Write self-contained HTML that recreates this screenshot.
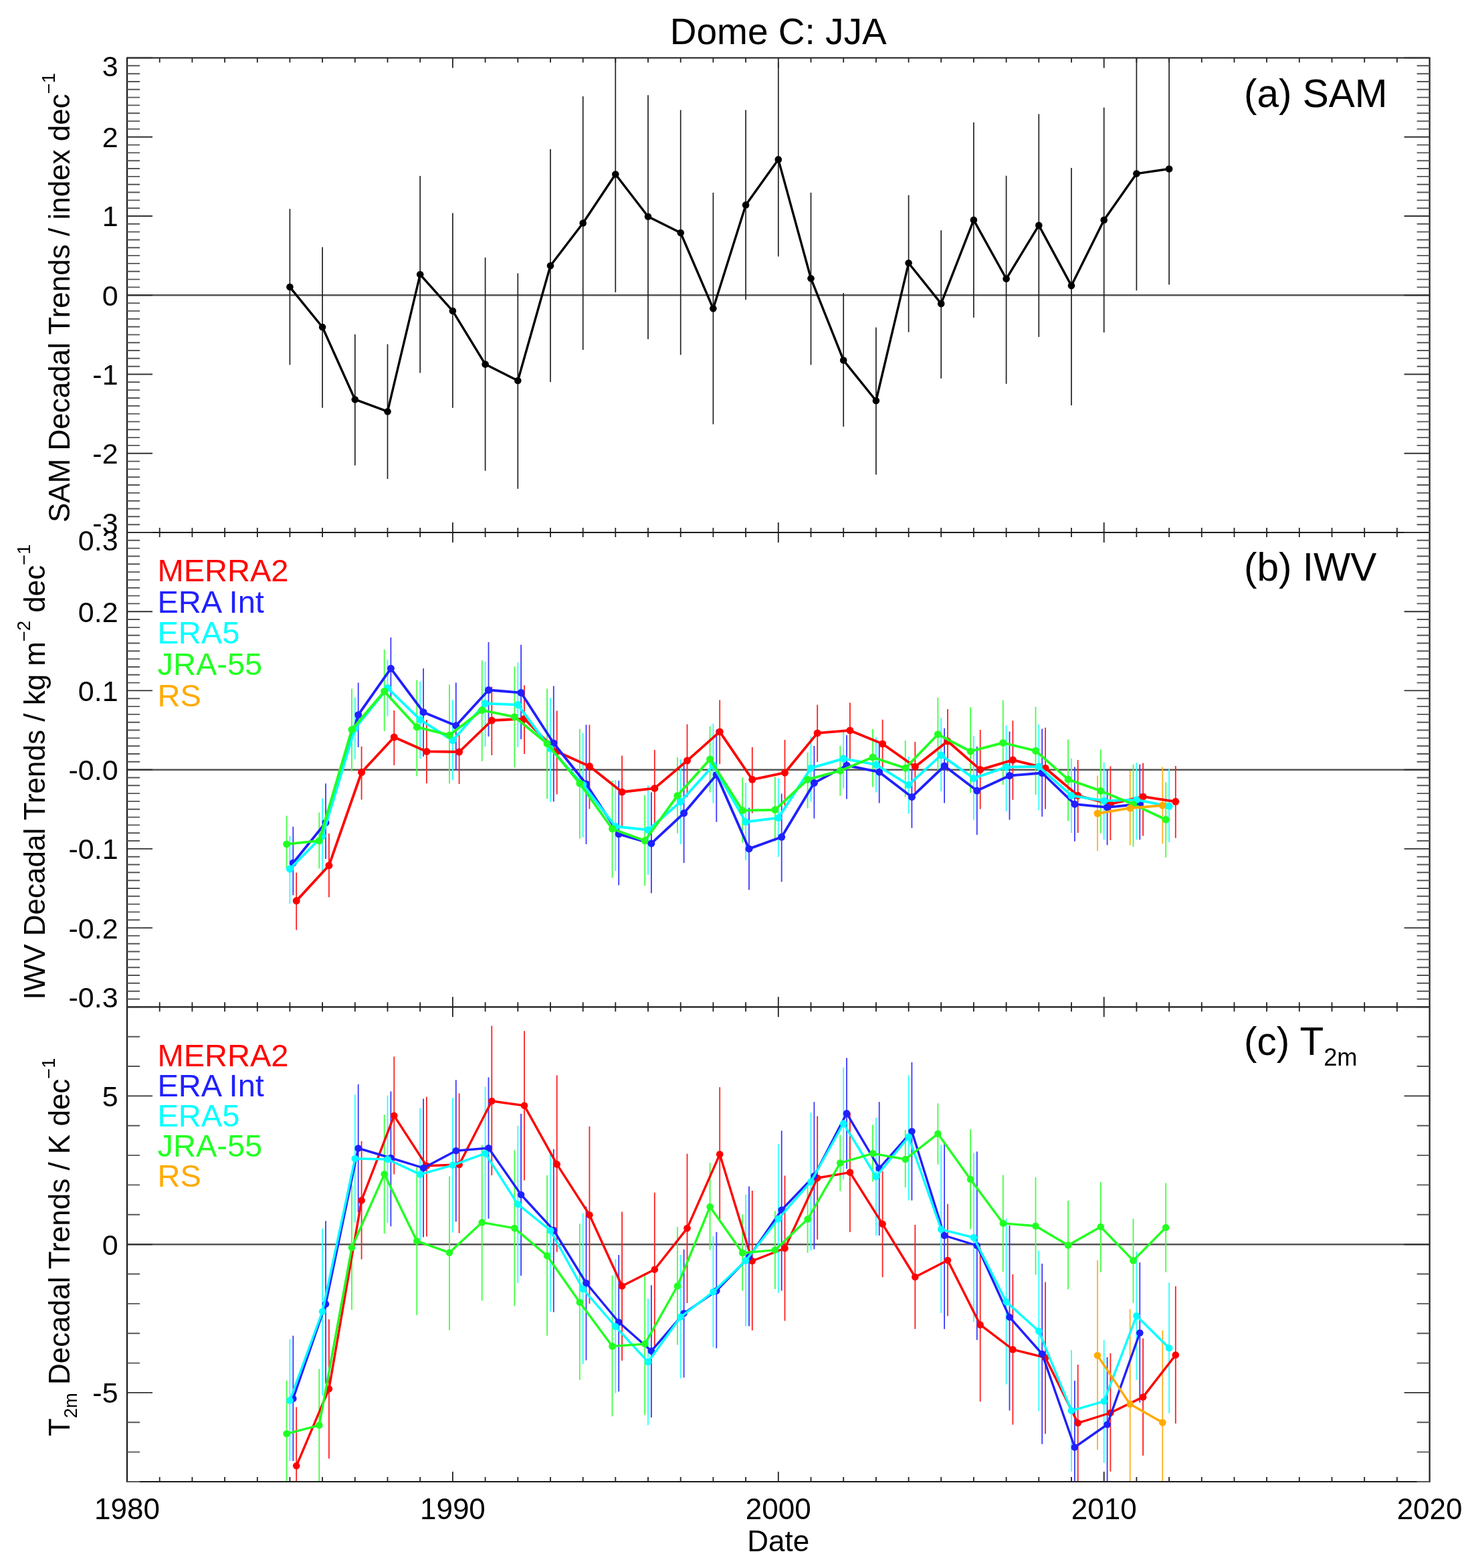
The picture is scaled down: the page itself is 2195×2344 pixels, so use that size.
<!DOCTYPE html>
<html><head><meta charset="utf-8"><title>Dome C: JJA</title>
<style>html,body{margin:0;padding:0;background:#fff;}svg{display:block;}text{font-family:'Liberation Sans', Arial, Helvetica, sans-serif;}</style>
</head><body>
<svg xmlns="http://www.w3.org/2000/svg" width="2195" height="2344" viewBox="0 0 2195 2344">
<rect width="2195" height="2344" fill="#fff"/>
<clipPath id="ca"><rect x="190" y="86.5" width="1947.6" height="709.5"/></clipPath>
<clipPath id="cb"><rect x="190" y="796" width="1947.6" height="709.3"/></clipPath>
<clipPath id="cc"><rect x="190" y="1505.3" width="1947.6" height="709.7"/></clipPath>
<path d="M190 441.2H2137.6" stroke="#555" stroke-width="2.6"/>
<path d="M190 1150.7H2137.6" stroke="#555" stroke-width="2.6"/>
<path d="M190 1860.2H2137.6" stroke="#555" stroke-width="2.6"/>
<g clip-path="url(#ca)">
<path d="M433.4 312.3V545.4M482.1 369.5V609.8M530.8 499.7V695.8M579.5 514.5V715.9M628.2 262.9V557.5M676.9 318.5V609.8M725.6 385.1V703.8M774.3 408.4V730.7M823 223.1V570.9M871.7 144V523M920.3 84V437.1M969 142.3V507M1017.7 164.6V530.5M1066.4 288.1V634.3M1115.1 164.6V447.9M1163.8 93.4V383.4M1212.5 288V545.4M1261.2 438V637.8M1309.9 489.4V709.6M1358.6 291.8V496.4M1407.2 344.3V565.7M1455.9 182.9V474.8M1504.6 262.8V573.8M1553.3 170.6V503.8M1602 250.9V606M1650.7 160.7V497.1M1699.4 84V434.2M1748.1 80V425.5" stroke="#222222" stroke-width="1.7" fill="none"/>
<path d="M433.4 429.1 L482.1 489 L530.8 597.2 L579.5 615.2 L628.2 410.3 L676.9 464.8 L725.6 544.6 L774.3 569 L823 397.2 L871.7 333.5 L920.3 260.5 L969 323.8 L1017.7 348 L1066.4 461.3 L1115.1 306.4 L1163.8 238.4 L1212.5 416.2 L1261.2 538.5 L1309.9 599 L1358.6 393.3 L1407.2 453.9 L1455.9 328.9 L1504.6 416.8 L1553.3 336.9 L1602 427.1 L1650.7 328.9 L1699.4 259.6 L1748.1 252.5" stroke="#000000" stroke-width="3.4" fill="none" stroke-linejoin="round"/>
<circle cx="433.4" cy="429.1" r="5.3" fill="#000000"/>
<circle cx="482.1" cy="489" r="5.3" fill="#000000"/>
<circle cx="530.8" cy="597.2" r="5.3" fill="#000000"/>
<circle cx="579.5" cy="615.2" r="5.3" fill="#000000"/>
<circle cx="628.2" cy="410.3" r="5.3" fill="#000000"/>
<circle cx="676.9" cy="464.8" r="5.3" fill="#000000"/>
<circle cx="725.6" cy="544.6" r="5.3" fill="#000000"/>
<circle cx="774.3" cy="569" r="5.3" fill="#000000"/>
<circle cx="823" cy="397.2" r="5.3" fill="#000000"/>
<circle cx="871.7" cy="333.5" r="5.3" fill="#000000"/>
<circle cx="920.3" cy="260.5" r="5.3" fill="#000000"/>
<circle cx="969" cy="323.8" r="5.3" fill="#000000"/>
<circle cx="1017.7" cy="348" r="5.3" fill="#000000"/>
<circle cx="1066.4" cy="461.3" r="5.3" fill="#000000"/>
<circle cx="1115.1" cy="306.4" r="5.3" fill="#000000"/>
<circle cx="1163.8" cy="238.4" r="5.3" fill="#000000"/>
<circle cx="1212.5" cy="416.2" r="5.3" fill="#000000"/>
<circle cx="1261.2" cy="538.5" r="5.3" fill="#000000"/>
<circle cx="1309.9" cy="599" r="5.3" fill="#000000"/>
<circle cx="1358.6" cy="393.3" r="5.3" fill="#000000"/>
<circle cx="1407.2" cy="453.9" r="5.3" fill="#000000"/>
<circle cx="1455.9" cy="328.9" r="5.3" fill="#000000"/>
<circle cx="1504.6" cy="416.8" r="5.3" fill="#000000"/>
<circle cx="1553.3" cy="336.9" r="5.3" fill="#000000"/>
<circle cx="1602" cy="427.1" r="5.3" fill="#000000"/>
<circle cx="1650.7" cy="328.9" r="5.3" fill="#000000"/>
<circle cx="1699.4" cy="259.6" r="5.3" fill="#000000"/>
<circle cx="1748.1" cy="252.5" r="5.3" fill="#000000"/>
</g>
<g clip-path="url(#cb)">
<path d="M443.2 1304.5V1390.2M491.9 1246V1341.3M540.6 1116V1195.5M589.3 1062V1144M637.9 1076V1171M686.6 1099V1172M735.3 1026.5V1129M784 1024.4V1127M832.7 1062.5V1187.4M881.4 1083.4V1209.3M930.1 1129.7V1235.7M978.8 1121V1235.7M1027.5 1082.8V1191.4M1076.2 1046.6V1142.2M1124.8 1117V1215.6M1173.5 1105.9V1204.5M1222.2 1053.6V1139.1M1270.9 1050.6V1134.1M1319.6 1075.8V1147.2M1368.3 1109V1184.4M1417 1060V1153M1465.7 1091V1209.4M1514.4 1077.3V1195.7M1563.1 1087.8V1209.4M1611.7 1136.1V1244.9M1660.4 1145.5V1255.9M1709.1 1140.7V1249.5M1757.8 1145V1252.7" stroke="#ff2020" stroke-width="1.8" fill="none"/>
<path d="M438.3 1235.7V1338.3M487 1171.3V1284M535.7 1020.4V1117M584.4 953V1046.6M633.1 999.3V1131.1M681.8 1020.4V1151.2M730.5 960.1V1100.9M779.1 964.1V1104.9M827.8 1025.5V1198.4M876.5 1083.5V1261.9M925.2 1167V1323.2M973.9 1184.4V1335.3M1022.6 1139.1V1290M1071.3 1090.8V1228.7M1120 1207.5V1330.3M1168.7 1186.4V1318.2M1217.4 1115V1223.6M1266 1098.9V1194.5M1314.7 1109V1200.5M1363.4 1149.2V1237.7M1412.1 1088.7V1200.6M1460.8 1116V1248.1M1509.5 1093.4V1225.5M1558.2 1089.4V1220.7M1606.9 1146.6V1257.8M1655.6 1150.7V1263.3M1704.3 1142.8V1255.3" stroke="#3a3aff" stroke-width="1.8" fill="none"/>
<path d="M433.4 1249.8V1351.1M482.1 1193.5V1306M530.8 1042.6V1135.1M579.5 986.2V1070.7M628.2 1018.4V1134.1M676.9 1046.6V1166.3M725.6 989.2V1116M774.3 990.2V1117M823 1043V1198.4M871.7 1096V1251.8M920.3 1166V1302.1M969 1174.3V1308.1M1017.7 1135.1V1261.9M1066.4 1081.8V1200.5M1115.1 1170.3V1286M1163.8 1163.3V1281M1212.5 1100.9V1198.5M1261.2 1091.9V1178.4M1309.9 1101.9V1184.4M1358.6 1131.1V1216.6M1407.2 1073.3V1182.9M1455.9 1099.9V1225.5M1504.6 1084.6V1212.7M1553.3 1083V1211M1602 1133.7V1244.9M1650.7 1139.7V1255.3M1699.4 1140.2V1255.3M1748.1 1149.7V1259" stroke="#30ffff" stroke-width="1.8" fill="none"/>
<path d="M428.6 1219.6V1298.1M477.3 1214.6V1298.3M526 1029.5V1153.2M574.7 971.1V1092.9M623.3 1016.4V1160.3M672 1023.4V1171.3M720.7 987.2V1138.1M769.4 996.3V1147.2M818.1 1029.5V1194.2M866.8 1089.7V1253.8M915.5 1167V1312.2M964.2 1188.4V1324.2M1012.9 1132.1V1245.8M1061.6 1085.8V1184.4M1110.2 1162.3V1259.9M1158.9 1161.3V1257.8M1207.6 1125V1208.6M1256.3 1115V1189.4M1305 1089.8V1176.4M1353.7 1106.9V1191.4M1402.4 1043V1154.2M1451.1 1057.2V1185.3M1499.8 1046.7V1173.2M1548.5 1056.4V1187.7M1597.1 1105.5V1227.2M1645.8 1120.4V1245.8M1694.5 1143.1V1265.9M1743.2 1169.3V1281.8" stroke="#44ff44" stroke-width="1.8" fill="none"/>
<path d="M1641 1159.4V1272M1689.7 1152V1263.6M1738.3 1146.5V1261.2" stroke="#ffb020" stroke-width="1.8" fill="none"/>
<path d="M443.2 1346.6 L491.9 1293.8 L540.6 1154.5 L589.3 1102 L637.9 1123.4 L686.6 1124 L735.3 1077 L784 1074.5 L832.7 1123.4 L881.4 1145.5 L930.1 1184 L978.8 1178.4 L1027.5 1137.1 L1076.2 1093.9 L1124.8 1165.3 L1173.5 1155.2 L1222.2 1095.9 L1270.9 1091.9 L1319.6 1112 L1368.3 1146.2 L1417 1108 L1465.7 1150.6 L1514.4 1136.1 L1563.1 1148.2 L1611.7 1189.3 L1660.4 1202 L1709.1 1190.9 L1757.8 1198.3" stroke="#ff0000" stroke-width="3.8" fill="none" stroke-linejoin="round"/>
<circle cx="443.2" cy="1346.6" r="5.5" fill="#ff0000"/>
<circle cx="491.9" cy="1293.8" r="5.5" fill="#ff0000"/>
<circle cx="540.6" cy="1154.5" r="5.5" fill="#ff0000"/>
<circle cx="589.3" cy="1102" r="5.5" fill="#ff0000"/>
<circle cx="637.9" cy="1123.4" r="5.5" fill="#ff0000"/>
<circle cx="686.6" cy="1124" r="5.5" fill="#ff0000"/>
<circle cx="735.3" cy="1077" r="5.5" fill="#ff0000"/>
<circle cx="784" cy="1074.5" r="5.5" fill="#ff0000"/>
<circle cx="832.7" cy="1123.4" r="5.5" fill="#ff0000"/>
<circle cx="881.4" cy="1145.5" r="5.5" fill="#ff0000"/>
<circle cx="930.1" cy="1184" r="5.5" fill="#ff0000"/>
<circle cx="978.8" cy="1178.4" r="5.5" fill="#ff0000"/>
<circle cx="1027.5" cy="1137.1" r="5.5" fill="#ff0000"/>
<circle cx="1076.2" cy="1093.9" r="5.5" fill="#ff0000"/>
<circle cx="1124.8" cy="1165.3" r="5.5" fill="#ff0000"/>
<circle cx="1173.5" cy="1155.2" r="5.5" fill="#ff0000"/>
<circle cx="1222.2" cy="1095.9" r="5.5" fill="#ff0000"/>
<circle cx="1270.9" cy="1091.9" r="5.5" fill="#ff0000"/>
<circle cx="1319.6" cy="1112" r="5.5" fill="#ff0000"/>
<circle cx="1368.3" cy="1146.2" r="5.5" fill="#ff0000"/>
<circle cx="1417" cy="1108" r="5.5" fill="#ff0000"/>
<circle cx="1465.7" cy="1150.6" r="5.5" fill="#ff0000"/>
<circle cx="1514.4" cy="1136.1" r="5.5" fill="#ff0000"/>
<circle cx="1563.1" cy="1148.2" r="5.5" fill="#ff0000"/>
<circle cx="1611.7" cy="1189.3" r="5.5" fill="#ff0000"/>
<circle cx="1660.4" cy="1202" r="5.5" fill="#ff0000"/>
<circle cx="1709.1" cy="1190.9" r="5.5" fill="#ff0000"/>
<circle cx="1757.8" cy="1198.3" r="5.5" fill="#ff0000"/>
<path d="M438.3 1290 L487 1229.7 L535.7 1068.7 L584.4 999.3 L633.1 1064.7 L681.8 1084.8 L730.5 1031.5 L779.1 1035.5 L827.8 1111 L876.5 1172 L925.2 1246.8 L973.9 1260.9 L1022.6 1215.6 L1071.3 1158.2 L1120 1268.9 L1168.7 1251.3 L1217.4 1170.3 L1266 1144.2 L1314.7 1154.2 L1363.4 1191.4 L1412.1 1145 L1460.8 1182 L1509.5 1159.5 L1558.2 1155.5 L1606.9 1202.2 L1655.6 1206.9 L1704.3 1202" stroke="#2020ff" stroke-width="3.8" fill="none" stroke-linejoin="round"/>
<circle cx="438.3" cy="1290" r="5.5" fill="#2020ff"/>
<circle cx="487" cy="1229.7" r="5.5" fill="#2020ff"/>
<circle cx="535.7" cy="1068.7" r="5.5" fill="#2020ff"/>
<circle cx="584.4" cy="999.3" r="5.5" fill="#2020ff"/>
<circle cx="633.1" cy="1064.7" r="5.5" fill="#2020ff"/>
<circle cx="681.8" cy="1084.8" r="5.5" fill="#2020ff"/>
<circle cx="730.5" cy="1031.5" r="5.5" fill="#2020ff"/>
<circle cx="779.1" cy="1035.5" r="5.5" fill="#2020ff"/>
<circle cx="827.8" cy="1111" r="5.5" fill="#2020ff"/>
<circle cx="876.5" cy="1172" r="5.5" fill="#2020ff"/>
<circle cx="925.2" cy="1246.8" r="5.5" fill="#2020ff"/>
<circle cx="973.9" cy="1260.9" r="5.5" fill="#2020ff"/>
<circle cx="1022.6" cy="1215.6" r="5.5" fill="#2020ff"/>
<circle cx="1071.3" cy="1158.2" r="5.5" fill="#2020ff"/>
<circle cx="1120" cy="1268.9" r="5.5" fill="#2020ff"/>
<circle cx="1168.7" cy="1251.3" r="5.5" fill="#2020ff"/>
<circle cx="1217.4" cy="1170.3" r="5.5" fill="#2020ff"/>
<circle cx="1266" cy="1144.2" r="5.5" fill="#2020ff"/>
<circle cx="1314.7" cy="1154.2" r="5.5" fill="#2020ff"/>
<circle cx="1363.4" cy="1191.4" r="5.5" fill="#2020ff"/>
<circle cx="1412.1" cy="1145" r="5.5" fill="#2020ff"/>
<circle cx="1460.8" cy="1182" r="5.5" fill="#2020ff"/>
<circle cx="1509.5" cy="1159.5" r="5.5" fill="#2020ff"/>
<circle cx="1558.2" cy="1155.5" r="5.5" fill="#2020ff"/>
<circle cx="1606.9" cy="1202.2" r="5.5" fill="#2020ff"/>
<circle cx="1655.6" cy="1206.9" r="5.5" fill="#2020ff"/>
<circle cx="1704.3" cy="1202" r="5.5" fill="#2020ff"/>
<path d="M433.4 1299 L482.1 1249.8 L530.8 1088.8 L579.5 1028.5 L628.2 1075.8 L676.9 1106.9 L725.6 1051.6 L774.3 1053.6 L823 1119 L871.7 1173 L920.3 1235.5 L969 1240.7 L1017.7 1198.5 L1066.4 1144.2 L1115.1 1228.7 L1163.8 1222.6 L1212.5 1148.2 L1261.2 1134.1 L1309.9 1143.2 L1358.6 1173.3 L1407.2 1128.9 L1455.9 1163.5 L1504.6 1146.6 L1553.3 1145.8 L1602 1189.3 L1650.7 1197.2 L1699.4 1195.7 L1748.1 1205.2" stroke="#00ffff" stroke-width="3.8" fill="none" stroke-linejoin="round"/>
<circle cx="433.4" cy="1299" r="5.5" fill="#00ffff"/>
<circle cx="482.1" cy="1249.8" r="5.5" fill="#00ffff"/>
<circle cx="530.8" cy="1088.8" r="5.5" fill="#00ffff"/>
<circle cx="579.5" cy="1028.5" r="5.5" fill="#00ffff"/>
<circle cx="628.2" cy="1075.8" r="5.5" fill="#00ffff"/>
<circle cx="676.9" cy="1106.9" r="5.5" fill="#00ffff"/>
<circle cx="725.6" cy="1051.6" r="5.5" fill="#00ffff"/>
<circle cx="774.3" cy="1053.6" r="5.5" fill="#00ffff"/>
<circle cx="823" cy="1119" r="5.5" fill="#00ffff"/>
<circle cx="871.7" cy="1173" r="5.5" fill="#00ffff"/>
<circle cx="920.3" cy="1235.5" r="5.5" fill="#00ffff"/>
<circle cx="969" cy="1240.7" r="5.5" fill="#00ffff"/>
<circle cx="1017.7" cy="1198.5" r="5.5" fill="#00ffff"/>
<circle cx="1066.4" cy="1144.2" r="5.5" fill="#00ffff"/>
<circle cx="1115.1" cy="1228.7" r="5.5" fill="#00ffff"/>
<circle cx="1163.8" cy="1222.6" r="5.5" fill="#00ffff"/>
<circle cx="1212.5" cy="1148.2" r="5.5" fill="#00ffff"/>
<circle cx="1261.2" cy="1134.1" r="5.5" fill="#00ffff"/>
<circle cx="1309.9" cy="1143.2" r="5.5" fill="#00ffff"/>
<circle cx="1358.6" cy="1173.3" r="5.5" fill="#00ffff"/>
<circle cx="1407.2" cy="1128.9" r="5.5" fill="#00ffff"/>
<circle cx="1455.9" cy="1163.5" r="5.5" fill="#00ffff"/>
<circle cx="1504.6" cy="1146.6" r="5.5" fill="#00ffff"/>
<circle cx="1553.3" cy="1145.8" r="5.5" fill="#00ffff"/>
<circle cx="1602" cy="1189.3" r="5.5" fill="#00ffff"/>
<circle cx="1650.7" cy="1197.2" r="5.5" fill="#00ffff"/>
<circle cx="1699.4" cy="1195.7" r="5.5" fill="#00ffff"/>
<circle cx="1748.1" cy="1205.2" r="5.5" fill="#00ffff"/>
<path d="M428.6 1261.9 L477.3 1256.8 L526 1090.8 L574.7 1033.5 L623.3 1086.8 L672 1098.9 L720.7 1061.7 L769.4 1071.7 L818.1 1111.5 L866.8 1171 L915.5 1239 L964.2 1256.8 L1012.9 1189.4 L1061.6 1135.1 L1110.2 1211.6 L1158.9 1210.6 L1207.6 1165.3 L1256.3 1152.2 L1305 1132.1 L1353.7 1148.2 L1402.4 1097.7 L1451.1 1123.2 L1499.8 1110.4 L1548.5 1122.4 L1597.1 1165.1 L1645.8 1182.3 L1694.5 1202.4 L1743.2 1225.2" stroke="#22ff22" stroke-width="3.8" fill="none" stroke-linejoin="round"/>
<circle cx="428.6" cy="1261.9" r="5.5" fill="#22ff22"/>
<circle cx="477.3" cy="1256.8" r="5.5" fill="#22ff22"/>
<circle cx="526" cy="1090.8" r="5.5" fill="#22ff22"/>
<circle cx="574.7" cy="1033.5" r="5.5" fill="#22ff22"/>
<circle cx="623.3" cy="1086.8" r="5.5" fill="#22ff22"/>
<circle cx="672" cy="1098.9" r="5.5" fill="#22ff22"/>
<circle cx="720.7" cy="1061.7" r="5.5" fill="#22ff22"/>
<circle cx="769.4" cy="1071.7" r="5.5" fill="#22ff22"/>
<circle cx="818.1" cy="1111.5" r="5.5" fill="#22ff22"/>
<circle cx="866.8" cy="1171" r="5.5" fill="#22ff22"/>
<circle cx="915.5" cy="1239" r="5.5" fill="#22ff22"/>
<circle cx="964.2" cy="1256.8" r="5.5" fill="#22ff22"/>
<circle cx="1012.9" cy="1189.4" r="5.5" fill="#22ff22"/>
<circle cx="1061.6" cy="1135.1" r="5.5" fill="#22ff22"/>
<circle cx="1110.2" cy="1211.6" r="5.5" fill="#22ff22"/>
<circle cx="1158.9" cy="1210.6" r="5.5" fill="#22ff22"/>
<circle cx="1207.6" cy="1165.3" r="5.5" fill="#22ff22"/>
<circle cx="1256.3" cy="1152.2" r="5.5" fill="#22ff22"/>
<circle cx="1305" cy="1132.1" r="5.5" fill="#22ff22"/>
<circle cx="1353.7" cy="1148.2" r="5.5" fill="#22ff22"/>
<circle cx="1402.4" cy="1097.7" r="5.5" fill="#22ff22"/>
<circle cx="1451.1" cy="1123.2" r="5.5" fill="#22ff22"/>
<circle cx="1499.8" cy="1110.4" r="5.5" fill="#22ff22"/>
<circle cx="1548.5" cy="1122.4" r="5.5" fill="#22ff22"/>
<circle cx="1597.1" cy="1165.1" r="5.5" fill="#22ff22"/>
<circle cx="1645.8" cy="1182.3" r="5.5" fill="#22ff22"/>
<circle cx="1694.5" cy="1202.4" r="5.5" fill="#22ff22"/>
<circle cx="1743.2" cy="1225.2" r="5.5" fill="#22ff22"/>
<path d="M1641 1216.1 L1689.7 1208 L1738.3 1204.1" stroke="#ffaa00" stroke-width="3.8" fill="none" stroke-linejoin="round"/>
<circle cx="1641" cy="1216.1" r="5.5" fill="#ffaa00"/>
<circle cx="1689.7" cy="1208" r="5.5" fill="#ffaa00"/>
<circle cx="1738.3" cy="1204.1" r="5.5" fill="#ffaa00"/>
</g>
<g clip-path="url(#cc)">
<path d="M443.2 2103.5V2279M491.9 1972.2V2180.4M540.6 1706V1882.4M589.3 1579.4V1755.6M637.9 1639.7V1848.5M686.6 1634.5V1843.5M735.3 1533.4V1757M784 1541.2V1764.4M832.7 1607.6V1871.6M881.4 1684V1948.7M930.1 1811.6V2034M978.8 1782.7V2012.8M1027.5 1724.7V1948M1076.2 1625.2V1826M1124.8 1780V1988.8M1173.5 1757.5V1974.6M1222.2 1668.6V1853M1270.9 1663.3V1841.7M1319.6 1751V1909.2M1368.3 1831V1986.7M1417 1799.8V1967.3M1465.7 1865V2095.3M1514.4 1905V2129.7M1563.1 1916.6V2143.4M1611.7 2040V2215M1660.4 2023V2199.8M1709.1 2000.8V2176M1757.8 1922.7V2128.1" stroke="#ff2020" stroke-width="1.8" fill="none"/>
<path d="M438.3 1996.7V2184M487 1825.3V2068.2M535.7 1621V1812.6M584.4 1631.4V1833.2M633.1 1642.6V1849.6M681.8 1614.5V1826.3M730.5 1610.5V1821.8M779.1 1665V1907M827.8 1717.8V1961.4M876.5 1803.8V2033.6M925.2 1875.9V2080.2M973.9 1921.3V2118.9M1022.6 1867.7V2059.2M1071.3 1841.7V2015.4M1120 1773.6V1982.4M1168.7 1690.3V1929.5M1217.4 1647.3V1867.5M1266 1581.6V1747.2M1314.7 1647.3V1847M1363.4 1588V1794.4M1412.1 1707.3V1986.7M1460.8 1721.4V2003.3M1509.5 1832V2108.5M1558.2 1888.9V2158.7M1606.9 2064V2263M1655.6 2029V2230M1704.3 1887.3V2096.7" stroke="#3a3aff" stroke-width="1.8" fill="none"/>
<path d="M433.4 2002.1V2184M482.1 1836.5V2086.3M530.8 1636.2V1827.8M579.5 1637.7V1828.3M628.2 1656.4V1854.8M676.9 1641.1V1842.5M725.6 1624.4V1824M774.3 1682.8V1918M823 1721.3V1960.5M871.7 1813.5V2039.2M920.3 1882.2V2082.4M969 1941.4V2130.6M1017.7 1875.9V2060.5M1066.4 1848V2014M1115.1 1785.8V1982.4M1163.8 1710.3V1932.7M1212.5 1663.4V1869.6M1261.2 1595.7V1763.3M1309.9 1670.9V1847M1358.6 1607.5V1794.4M1407.2 1711.7V1963M1455.9 1723.5V1976M1504.6 1821.8V2069.5M1553.3 1869.6V2109.6M1602 2018V2199.8M1650.7 2003.2V2186.9M1699.4 1871.2V2062.8M1748.1 1917.5V2112.8" stroke="#30ffff" stroke-width="1.8" fill="none"/>
<path d="M428.6 2063.7V2223M477.3 2046.5V2215M526 1771.5V1958M574.7 1666.5V1844M623.3 1745V1966M672 1758.5V1988.5M720.7 1711.4V1944.2M769.4 1719.5V1952.3M818.1 1757V1996.7M866.8 1829.2V2063M915.5 1906.7V2117.2M964.2 1903.4V2115.2M1012.9 1834.3V2010.6M1061.6 1738.3V1868.5M1110.2 1815.4V1929.5M1158.9 1810.3V1926.9M1207.6 1772.2V1872.8M1256.3 1696.7V1780.5M1305 1681.6V1766.5M1353.7 1689.2V1775.1M1402.4 1649.4V1740.7M1451.1 1688.1V1837.4M1499.8 1756.5V1901.3M1548.5 1760.1V1905.4M1597.1 1794.8V1927.6M1645.8 1767V1901.8M1694.5 1821.8V1947.7M1743.2 1768.6V1901.8" stroke="#44ff44" stroke-width="1.8" fill="none"/>
<path d="M1641 1884V2167.6M1689.7 1957V2241M1738.3 1988.7V2264" stroke="#ffb020" stroke-width="1.8" fill="none"/>
<path d="M443.2 2191.3 L491.9 2076.3 L540.6 1794.4 L589.3 1667.8 L637.9 1742.8 L686.6 1741 L735.3 1646 L784 1652.8 L832.7 1740.4 L881.4 1816.2 L930.1 1922.5 L978.8 1897.8 L1027.5 1836.1 L1076.2 1725.6 L1124.8 1885 L1173.5 1866 L1222.2 1761 L1270.9 1752.6 L1319.6 1829.8 L1368.3 1909 L1417 1884 L1465.7 1980.4 L1514.4 2017.4 L1563.1 2029.5 L1611.7 2127.3 L1660.4 2112 L1709.1 2088.4 L1757.8 2025.6" stroke="#ff0000" stroke-width="3.4" fill="none" stroke-linejoin="round"/>
<circle cx="443.2" cy="2191.3" r="5.3" fill="#ff0000"/>
<circle cx="491.9" cy="2076.3" r="5.3" fill="#ff0000"/>
<circle cx="540.6" cy="1794.4" r="5.3" fill="#ff0000"/>
<circle cx="589.3" cy="1667.8" r="5.3" fill="#ff0000"/>
<circle cx="637.9" cy="1742.8" r="5.3" fill="#ff0000"/>
<circle cx="686.6" cy="1741" r="5.3" fill="#ff0000"/>
<circle cx="735.3" cy="1646" r="5.3" fill="#ff0000"/>
<circle cx="784" cy="1652.8" r="5.3" fill="#ff0000"/>
<circle cx="832.7" cy="1740.4" r="5.3" fill="#ff0000"/>
<circle cx="881.4" cy="1816.2" r="5.3" fill="#ff0000"/>
<circle cx="930.1" cy="1922.5" r="5.3" fill="#ff0000"/>
<circle cx="978.8" cy="1897.8" r="5.3" fill="#ff0000"/>
<circle cx="1027.5" cy="1836.1" r="5.3" fill="#ff0000"/>
<circle cx="1076.2" cy="1725.6" r="5.3" fill="#ff0000"/>
<circle cx="1124.8" cy="1885" r="5.3" fill="#ff0000"/>
<circle cx="1173.5" cy="1866" r="5.3" fill="#ff0000"/>
<circle cx="1222.2" cy="1761" r="5.3" fill="#ff0000"/>
<circle cx="1270.9" cy="1752.6" r="5.3" fill="#ff0000"/>
<circle cx="1319.6" cy="1829.8" r="5.3" fill="#ff0000"/>
<circle cx="1368.3" cy="1909" r="5.3" fill="#ff0000"/>
<circle cx="1417" cy="1884" r="5.3" fill="#ff0000"/>
<circle cx="1465.7" cy="1980.4" r="5.3" fill="#ff0000"/>
<circle cx="1514.4" cy="2017.4" r="5.3" fill="#ff0000"/>
<circle cx="1563.1" cy="2029.5" r="5.3" fill="#ff0000"/>
<circle cx="1611.7" cy="2127.3" r="5.3" fill="#ff0000"/>
<circle cx="1660.4" cy="2112" r="5.3" fill="#ff0000"/>
<circle cx="1709.1" cy="2088.4" r="5.3" fill="#ff0000"/>
<circle cx="1757.8" cy="2025.6" r="5.3" fill="#ff0000"/>
<path d="M438.3 2090.8 L487 1949.6 L535.7 1716.5 L584.4 1731 L633.1 1746 L681.8 1720.2 L730.5 1716.2 L779.1 1786 L827.8 1839 L876.5 1918 L925.2 1976.5 L973.9 2019.6 L1022.6 1963.3 L1071.3 1929.6 L1120 1879 L1168.7 1808.8 L1217.4 1758 L1266 1664.4 L1314.7 1746.5 L1363.4 1691.3 L1412.1 1847 L1460.8 1862 L1509.5 1969 L1558.2 2024 L1606.9 2163.5 L1655.6 2129.5 L1704.3 1992.5" stroke="#2020ff" stroke-width="3.4" fill="none" stroke-linejoin="round"/>
<circle cx="438.3" cy="2090.8" r="5.3" fill="#2020ff"/>
<circle cx="487" cy="1949.6" r="5.3" fill="#2020ff"/>
<circle cx="535.7" cy="1716.5" r="5.3" fill="#2020ff"/>
<circle cx="584.4" cy="1731" r="5.3" fill="#2020ff"/>
<circle cx="633.1" cy="1746" r="5.3" fill="#2020ff"/>
<circle cx="681.8" cy="1720.2" r="5.3" fill="#2020ff"/>
<circle cx="730.5" cy="1716.2" r="5.3" fill="#2020ff"/>
<circle cx="779.1" cy="1786" r="5.3" fill="#2020ff"/>
<circle cx="827.8" cy="1839" r="5.3" fill="#2020ff"/>
<circle cx="876.5" cy="1918" r="5.3" fill="#2020ff"/>
<circle cx="925.2" cy="1976.5" r="5.3" fill="#2020ff"/>
<circle cx="973.9" cy="2019.6" r="5.3" fill="#2020ff"/>
<circle cx="1022.6" cy="1963.3" r="5.3" fill="#2020ff"/>
<circle cx="1071.3" cy="1929.6" r="5.3" fill="#2020ff"/>
<circle cx="1120" cy="1879" r="5.3" fill="#2020ff"/>
<circle cx="1168.7" cy="1808.8" r="5.3" fill="#2020ff"/>
<circle cx="1217.4" cy="1758" r="5.3" fill="#2020ff"/>
<circle cx="1266" cy="1664.4" r="5.3" fill="#2020ff"/>
<circle cx="1314.7" cy="1746.5" r="5.3" fill="#2020ff"/>
<circle cx="1363.4" cy="1691.3" r="5.3" fill="#2020ff"/>
<circle cx="1412.1" cy="1847" r="5.3" fill="#2020ff"/>
<circle cx="1460.8" cy="1862" r="5.3" fill="#2020ff"/>
<circle cx="1509.5" cy="1969" r="5.3" fill="#2020ff"/>
<circle cx="1558.2" cy="2024" r="5.3" fill="#2020ff"/>
<circle cx="1606.9" cy="2163.5" r="5.3" fill="#2020ff"/>
<circle cx="1655.6" cy="2129.5" r="5.3" fill="#2020ff"/>
<circle cx="1704.3" cy="1992.5" r="5.3" fill="#2020ff"/>
<path d="M433.4 2093.5 L482.1 1960.5 L530.8 1732 L579.5 1733 L628.2 1755.6 L676.9 1741.8 L725.6 1724.2 L774.3 1800.3 L823 1839.5 L871.7 1927 L920.3 1983 L969 2036 L1017.7 1968.8 L1066.4 1931.2 L1115.1 1884.4 L1163.8 1822 L1212.5 1766.5 L1261.2 1679.5 L1309.9 1759 L1358.6 1699.5 L1407.2 1837.8 L1455.9 1850 L1504.6 1946 L1553.3 1990 L1602 2108.8 L1650.7 2094.8 L1699.4 1967 L1748.1 2015.3" stroke="#00ffff" stroke-width="3.4" fill="none" stroke-linejoin="round"/>
<circle cx="433.4" cy="2093.5" r="5.3" fill="#00ffff"/>
<circle cx="482.1" cy="1960.5" r="5.3" fill="#00ffff"/>
<circle cx="530.8" cy="1732" r="5.3" fill="#00ffff"/>
<circle cx="579.5" cy="1733" r="5.3" fill="#00ffff"/>
<circle cx="628.2" cy="1755.6" r="5.3" fill="#00ffff"/>
<circle cx="676.9" cy="1741.8" r="5.3" fill="#00ffff"/>
<circle cx="725.6" cy="1724.2" r="5.3" fill="#00ffff"/>
<circle cx="774.3" cy="1800.3" r="5.3" fill="#00ffff"/>
<circle cx="823" cy="1839.5" r="5.3" fill="#00ffff"/>
<circle cx="871.7" cy="1927" r="5.3" fill="#00ffff"/>
<circle cx="920.3" cy="1983" r="5.3" fill="#00ffff"/>
<circle cx="969" cy="2036" r="5.3" fill="#00ffff"/>
<circle cx="1017.7" cy="1968.8" r="5.3" fill="#00ffff"/>
<circle cx="1066.4" cy="1931.2" r="5.3" fill="#00ffff"/>
<circle cx="1115.1" cy="1884.4" r="5.3" fill="#00ffff"/>
<circle cx="1163.8" cy="1822" r="5.3" fill="#00ffff"/>
<circle cx="1212.5" cy="1766.5" r="5.3" fill="#00ffff"/>
<circle cx="1261.2" cy="1679.5" r="5.3" fill="#00ffff"/>
<circle cx="1309.9" cy="1759" r="5.3" fill="#00ffff"/>
<circle cx="1358.6" cy="1699.5" r="5.3" fill="#00ffff"/>
<circle cx="1407.2" cy="1837.8" r="5.3" fill="#00ffff"/>
<circle cx="1455.9" cy="1850" r="5.3" fill="#00ffff"/>
<circle cx="1504.6" cy="1946" r="5.3" fill="#00ffff"/>
<circle cx="1553.3" cy="1990" r="5.3" fill="#00ffff"/>
<circle cx="1602" cy="2108.8" r="5.3" fill="#00ffff"/>
<circle cx="1650.7" cy="2094.8" r="5.3" fill="#00ffff"/>
<circle cx="1699.4" cy="1967" r="5.3" fill="#00ffff"/>
<circle cx="1748.1" cy="2015.3" r="5.3" fill="#00ffff"/>
<path d="M428.6 2143.3 L477.3 2130.6 L526 1865 L574.7 1755.2 L623.3 1855.2 L672 1872.6 L720.7 1827.4 L769.4 1836.1 L818.1 1877.2 L866.8 1946.7 L915.5 2012.5 L964.2 2009.1 L1012.9 1922.5 L1061.6 1804 L1110.2 1873 L1158.9 1868.6 L1207.6 1822.5 L1256.3 1738.6 L1305 1724.3 L1353.7 1733 L1402.4 1694.8 L1451.1 1763 L1499.8 1828.8 L1548.5 1832.7 L1597.1 1861.5 L1645.8 1834 L1694.5 1884.4 L1743.2 1835" stroke="#22ff22" stroke-width="3.4" fill="none" stroke-linejoin="round"/>
<circle cx="428.6" cy="2143.3" r="5.3" fill="#22ff22"/>
<circle cx="477.3" cy="2130.6" r="5.3" fill="#22ff22"/>
<circle cx="526" cy="1865" r="5.3" fill="#22ff22"/>
<circle cx="574.7" cy="1755.2" r="5.3" fill="#22ff22"/>
<circle cx="623.3" cy="1855.2" r="5.3" fill="#22ff22"/>
<circle cx="672" cy="1872.6" r="5.3" fill="#22ff22"/>
<circle cx="720.7" cy="1827.4" r="5.3" fill="#22ff22"/>
<circle cx="769.4" cy="1836.1" r="5.3" fill="#22ff22"/>
<circle cx="818.1" cy="1877.2" r="5.3" fill="#22ff22"/>
<circle cx="866.8" cy="1946.7" r="5.3" fill="#22ff22"/>
<circle cx="915.5" cy="2012.5" r="5.3" fill="#22ff22"/>
<circle cx="964.2" cy="2009.1" r="5.3" fill="#22ff22"/>
<circle cx="1012.9" cy="1922.5" r="5.3" fill="#22ff22"/>
<circle cx="1061.6" cy="1804" r="5.3" fill="#22ff22"/>
<circle cx="1110.2" cy="1873" r="5.3" fill="#22ff22"/>
<circle cx="1158.9" cy="1868.6" r="5.3" fill="#22ff22"/>
<circle cx="1207.6" cy="1822.5" r="5.3" fill="#22ff22"/>
<circle cx="1256.3" cy="1738.6" r="5.3" fill="#22ff22"/>
<circle cx="1305" cy="1724.3" r="5.3" fill="#22ff22"/>
<circle cx="1353.7" cy="1733" r="5.3" fill="#22ff22"/>
<circle cx="1402.4" cy="1694.8" r="5.3" fill="#22ff22"/>
<circle cx="1451.1" cy="1763" r="5.3" fill="#22ff22"/>
<circle cx="1499.8" cy="1828.8" r="5.3" fill="#22ff22"/>
<circle cx="1548.5" cy="1832.7" r="5.3" fill="#22ff22"/>
<circle cx="1597.1" cy="1861.5" r="5.3" fill="#22ff22"/>
<circle cx="1645.8" cy="1834" r="5.3" fill="#22ff22"/>
<circle cx="1694.5" cy="1884.4" r="5.3" fill="#22ff22"/>
<circle cx="1743.2" cy="1835" r="5.3" fill="#22ff22"/>
<path d="M1641 2026.2 L1689.7 2099.1 L1738.3 2126.5" stroke="#ffaa00" stroke-width="3.4" fill="none" stroke-linejoin="round"/>
<circle cx="1641" cy="2026.2" r="5.3" fill="#ffaa00"/>
<circle cx="1689.7" cy="2099.1" r="5.3" fill="#ffaa00"/>
<circle cx="1738.3" cy="2126.5" r="5.3" fill="#ffaa00"/>
</g>
<path d="M190 86.5V2215M2137.6 86.5V2215M189 86.5H2138.6M189 796H2138.6M189 1505.3H2138.6M189 2215H2138.6" stroke="#1a1a1a" stroke-width="2.2" fill="none"/>
<path d="M238.7 86.5v7M238.7 796v-7M287.4 86.5v7M287.4 796v-7M336.1 86.5v7M336.1 796v-7M384.8 86.5v7M384.8 796v-7M433.4 86.5v7M433.4 796v-7M482.1 86.5v7M482.1 796v-7M530.8 86.5v7M530.8 796v-7M579.5 86.5v7M579.5 796v-7M628.2 86.5v7M628.2 796v-7M676.9 86.5v15M676.9 796v-15M725.6 86.5v7M725.6 796v-7M774.3 86.5v7M774.3 796v-7M823 86.5v7M823 796v-7M871.7 86.5v7M871.7 796v-7M920.3 86.5v7M920.3 796v-7M969 86.5v7M969 796v-7M1017.7 86.5v7M1017.7 796v-7M1066.4 86.5v7M1066.4 796v-7M1115.1 86.5v7M1115.1 796v-7M1163.8 86.5v15M1163.8 796v-15M1212.5 86.5v7M1212.5 796v-7M1261.2 86.5v7M1261.2 796v-7M1309.9 86.5v7M1309.9 796v-7M1358.6 86.5v7M1358.6 796v-7M1407.2 86.5v7M1407.2 796v-7M1455.9 86.5v7M1455.9 796v-7M1504.6 86.5v7M1504.6 796v-7M1553.3 86.5v7M1553.3 796v-7M1602 86.5v7M1602 796v-7M1650.7 86.5v15M1650.7 796v-15M1699.4 86.5v7M1699.4 796v-7M1748.1 86.5v7M1748.1 796v-7M1796.8 86.5v7M1796.8 796v-7M1845.5 86.5v7M1845.5 796v-7M1894.1 86.5v7M1894.1 796v-7M1942.8 86.5v7M1942.8 796v-7M1991.5 86.5v7M1991.5 796v-7M2040.2 86.5v7M2040.2 796v-7M2088.9 86.5v7M2088.9 796v-7M238.7 796v7M238.7 1505.3v-7M287.4 796v7M287.4 1505.3v-7M336.1 796v7M336.1 1505.3v-7M384.8 796v7M384.8 1505.3v-7M433.4 796v7M433.4 1505.3v-7M482.1 796v7M482.1 1505.3v-7M530.8 796v7M530.8 1505.3v-7M579.5 796v7M579.5 1505.3v-7M628.2 796v7M628.2 1505.3v-7M676.9 796v15M676.9 1505.3v-15M725.6 796v7M725.6 1505.3v-7M774.3 796v7M774.3 1505.3v-7M823 796v7M823 1505.3v-7M871.7 796v7M871.7 1505.3v-7M920.3 796v7M920.3 1505.3v-7M969 796v7M969 1505.3v-7M1017.7 796v7M1017.7 1505.3v-7M1066.4 796v7M1066.4 1505.3v-7M1115.1 796v7M1115.1 1505.3v-7M1163.8 796v15M1163.8 1505.3v-15M1212.5 796v7M1212.5 1505.3v-7M1261.2 796v7M1261.2 1505.3v-7M1309.9 796v7M1309.9 1505.3v-7M1358.6 796v7M1358.6 1505.3v-7M1407.2 796v7M1407.2 1505.3v-7M1455.9 796v7M1455.9 1505.3v-7M1504.6 796v7M1504.6 1505.3v-7M1553.3 796v7M1553.3 1505.3v-7M1602 796v7M1602 1505.3v-7M1650.7 796v15M1650.7 1505.3v-15M1699.4 796v7M1699.4 1505.3v-7M1748.1 796v7M1748.1 1505.3v-7M1796.8 796v7M1796.8 1505.3v-7M1845.5 796v7M1845.5 1505.3v-7M1894.1 796v7M1894.1 1505.3v-7M1942.8 796v7M1942.8 1505.3v-7M1991.5 796v7M1991.5 1505.3v-7M2040.2 796v7M2040.2 1505.3v-7M2088.9 796v7M2088.9 1505.3v-7M238.7 1505.3v7M238.7 2215v-7M287.4 1505.3v7M287.4 2215v-7M336.1 1505.3v7M336.1 2215v-7M384.8 1505.3v7M384.8 2215v-7M433.4 1505.3v7M433.4 2215v-7M482.1 1505.3v7M482.1 2215v-7M530.8 1505.3v7M530.8 2215v-7M579.5 1505.3v7M579.5 2215v-7M628.2 1505.3v7M628.2 2215v-7M676.9 1505.3v15M676.9 2215v-15M725.6 1505.3v7M725.6 2215v-7M774.3 1505.3v7M774.3 2215v-7M823 1505.3v7M823 2215v-7M871.7 1505.3v7M871.7 2215v-7M920.3 1505.3v7M920.3 2215v-7M969 1505.3v7M969 2215v-7M1017.7 1505.3v7M1017.7 2215v-7M1066.4 1505.3v7M1066.4 2215v-7M1115.1 1505.3v7M1115.1 2215v-7M1163.8 1505.3v15M1163.8 2215v-15M1212.5 1505.3v7M1212.5 2215v-7M1261.2 1505.3v7M1261.2 2215v-7M1309.9 1505.3v7M1309.9 2215v-7M1358.6 1505.3v7M1358.6 2215v-7M1407.2 1505.3v7M1407.2 2215v-7M1455.9 1505.3v7M1455.9 2215v-7M1504.6 1505.3v7M1504.6 2215v-7M1553.3 1505.3v7M1553.3 2215v-7M1602 1505.3v7M1602 2215v-7M1650.7 1505.3v15M1650.7 2215v-15M1699.4 1505.3v7M1699.4 2215v-7M1748.1 1505.3v7M1748.1 2215v-7M1796.8 1505.3v7M1796.8 2215v-7M1845.5 1505.3v7M1845.5 2215v-7M1894.1 1505.3v7M1894.1 2215v-7M1942.8 1505.3v7M1942.8 2215v-7M1991.5 1505.3v7M1991.5 2215v-7M2040.2 1505.3v7M2040.2 2215v-7M2088.9 1505.3v7M2088.9 2215v-7" stroke="#222" stroke-width="1.8" fill="none"/>
<path d="M190 98.3h19M2137.6 98.3h-19M190 110.2h19M2137.6 110.2h-19M190 122h19M2137.6 122h-19M190 133.8h19M2137.6 133.8h-19M190 145.6h19M2137.6 145.6h-19M190 157.4h19M2137.6 157.4h-19M190 169.3h19M2137.6 169.3h-19M190 181.1h19M2137.6 181.1h-19M190 192.9h19M2137.6 192.9h-19M190 216.6h19M2137.6 216.6h-19M190 228.4h19M2137.6 228.4h-19M190 240.2h19M2137.6 240.2h-19M190 252h19M2137.6 252h-19M190 263.9h19M2137.6 263.9h-19M190 275.7h19M2137.6 275.7h-19M190 287.5h19M2137.6 287.5h-19M190 299.4h19M2137.6 299.4h-19M190 311.2h19M2137.6 311.2h-19M190 334.8h19M2137.6 334.8h-19M190 346.6h19M2137.6 346.6h-19M190 358.5h19M2137.6 358.5h-19M190 370.3h19M2137.6 370.3h-19M190 382.1h19M2137.6 382.1h-19M190 393.9h19M2137.6 393.9h-19M190 405.8h19M2137.6 405.8h-19M190 417.6h19M2137.6 417.6h-19M190 429.4h19M2137.6 429.4h-19M190 453.1h19M2137.6 453.1h-19M190 464.9h19M2137.6 464.9h-19M190 476.7h19M2137.6 476.7h-19M190 488.5h19M2137.6 488.5h-19M190 500.4h19M2137.6 500.4h-19M190 512.2h19M2137.6 512.2h-19M190 524h19M2137.6 524h-19M190 535.8h19M2137.6 535.8h-19M190 547.7h19M2137.6 547.7h-19M190 571.3h19M2137.6 571.3h-19M190 583.1h19M2137.6 583.1h-19M190 595h19M2137.6 595h-19M190 606.8h19M2137.6 606.8h-19M190 618.6h19M2137.6 618.6h-19M190 630.4h19M2137.6 630.4h-19M190 642.3h19M2137.6 642.3h-19M190 654.1h19M2137.6 654.1h-19M190 665.9h19M2137.6 665.9h-19M190 689.6h19M2137.6 689.6h-19M190 701.4h19M2137.6 701.4h-19M190 713.2h19M2137.6 713.2h-19M190 725h19M2137.6 725h-19M190 736.9h19M2137.6 736.9h-19M190 748.7h19M2137.6 748.7h-19M190 760.5h19M2137.6 760.5h-19M190 772.3h19M2137.6 772.3h-19M190 784.2h19M2137.6 784.2h-19M190 807.8h19M2137.6 807.8h-19M190 819.6h19M2137.6 819.6h-19M190 831.5h19M2137.6 831.5h-19M190 843.3h19M2137.6 843.3h-19M190 855.1h19M2137.6 855.1h-19M190 866.9h19M2137.6 866.9h-19M190 878.8h19M2137.6 878.8h-19M190 890.6h19M2137.6 890.6h-19M190 902.4h19M2137.6 902.4h-19M190 926h19M2137.6 926h-19M190 937.9h19M2137.6 937.9h-19M190 949.7h19M2137.6 949.7h-19M190 961.5h19M2137.6 961.5h-19M190 973.3h19M2137.6 973.3h-19M190 985.1h19M2137.6 985.1h-19M190 997h19M2137.6 997h-19M190 1008.8h19M2137.6 1008.8h-19M190 1020.6h19M2137.6 1020.6h-19M190 1044.3h19M2137.6 1044.3h-19M190 1056.1h19M2137.6 1056.1h-19M190 1067.9h19M2137.6 1067.9h-19M190 1079.7h19M2137.6 1079.7h-19M190 1091.5h19M2137.6 1091.5h-19M190 1103.4h19M2137.6 1103.4h-19M190 1115.2h19M2137.6 1115.2h-19M190 1127h19M2137.6 1127h-19M190 1138.8h19M2137.6 1138.8h-19M190 1162.5h19M2137.6 1162.5h-19M190 1174.3h19M2137.6 1174.3h-19M190 1186.1h19M2137.6 1186.1h-19M190 1197.9h19M2137.6 1197.9h-19M190 1209.8h19M2137.6 1209.8h-19M190 1221.6h19M2137.6 1221.6h-19M190 1233.4h19M2137.6 1233.4h-19M190 1245.2h19M2137.6 1245.2h-19M190 1257h19M2137.6 1257h-19M190 1280.7h19M2137.6 1280.7h-19M190 1292.5h19M2137.6 1292.5h-19M190 1304.3h19M2137.6 1304.3h-19M190 1316.2h19M2137.6 1316.2h-19M190 1328h19M2137.6 1328h-19M190 1339.8h19M2137.6 1339.8h-19M190 1351.6h19M2137.6 1351.6h-19M190 1363.4h19M2137.6 1363.4h-19M190 1375.3h19M2137.6 1375.3h-19M190 1398.9h19M2137.6 1398.9h-19M190 1410.7h19M2137.6 1410.7h-19M190 1422.5h19M2137.6 1422.5h-19M190 1434.4h19M2137.6 1434.4h-19M190 1446.2h19M2137.6 1446.2h-19M190 1458h19M2137.6 1458h-19M190 1469.8h19M2137.6 1469.8h-19M190 1481.7h19M2137.6 1481.7h-19M190 1493.5h19M2137.6 1493.5h-19M190 1505.3h19M2137.6 1505.3h-19M190 1549.7h19M2137.6 1549.7h-19M190 1594h19M2137.6 1594h-19M190 1682.7h19M2137.6 1682.7h-19M190 1727.1h19M2137.6 1727.1h-19M190 1771.4h19M2137.6 1771.4h-19M190 1815.8h19M2137.6 1815.8h-19M190 1904.5h19M2137.6 1904.5h-19M190 1948.9h19M2137.6 1948.9h-19M190 1993.2h19M2137.6 1993.2h-19M190 2037.6h19M2137.6 2037.6h-19M190 2126.3h19M2137.6 2126.3h-19M190 2170.6h19M2137.6 2170.6h-19M190 2215h19M2137.6 2215h-19" stroke="#555" stroke-width="1.9" fill="none"/>
<path d="M190 86.5h38M2137.6 86.5h-38M190 204.8h38M2137.6 204.8h-38M190 323h38M2137.6 323h-38M190 441.2h38M2137.6 441.2h-38M190 559.5h38M2137.6 559.5h-38M190 677.8h38M2137.6 677.8h-38M190 796h38M2137.6 796h-38M190 796h38M2137.6 796h-38M190 914.2h38M2137.6 914.2h-38M190 1032.4h38M2137.6 1032.4h-38M190 1150.7h38M2137.6 1150.7h-38M190 1268.9h38M2137.6 1268.9h-38M190 1387.1h38M2137.6 1387.1h-38M190 1505.3h38M2137.6 1505.3h-38M190 1638.4h38M2137.6 1638.4h-38M190 1860.2h38M2137.6 1860.2h-38M190 2081.9h38M2137.6 2081.9h-38" stroke="#333" stroke-width="1.9" fill="none"/>
<text x="176.6" y="113.5" font-size="43" text-anchor="end">3</text>
<text x="176.6" y="220.1" font-size="43" text-anchor="end">2</text>
<text x="176.6" y="338.4" font-size="43" text-anchor="end">1</text>
<text x="176.6" y="456.6" font-size="43" text-anchor="end">0</text>
<text x="176.6" y="574.9" font-size="43" text-anchor="end">-1</text>
<text x="176.6" y="693.1" font-size="43" text-anchor="end">-2</text>
<text x="176.6" y="797" font-size="43" text-anchor="end">-3</text>
<text x="176.6" y="823" font-size="43" text-anchor="end">0.3</text>
<text x="176.6" y="929.6" font-size="43" text-anchor="end">0.2</text>
<text x="176.6" y="1047.8" font-size="43" text-anchor="end">0.1</text>
<text x="176.6" y="1166" font-size="43" text-anchor="end">-0.0</text>
<text x="176.6" y="1284.3" font-size="43" text-anchor="end">-0.1</text>
<text x="176.6" y="1402.5" font-size="43" text-anchor="end">-0.2</text>
<text x="176.6" y="1506.3" font-size="43" text-anchor="end">-0.3</text>
<text x="176.6" y="1653.8" font-size="43" text-anchor="end">5</text>
<text x="176.6" y="1875.5" font-size="43" text-anchor="end">0</text>
<text x="176.6" y="2097.3" font-size="43" text-anchor="end">-5</text>
<text x="190" y="2270.5" font-size="44" text-anchor="middle">1980</text>
<text x="676.9" y="2270.5" font-size="44" text-anchor="middle">1990</text>
<text x="1163.8" y="2270.5" font-size="44" text-anchor="middle">2000</text>
<text x="1650.7" y="2270.5" font-size="44" text-anchor="middle">2010</text>
<text x="2137.6" y="2270.5" font-size="44" text-anchor="middle">2020</text>
<text x="1163.8" y="2319" font-size="44" text-anchor="middle">Date</text>
<text x="1163.8" y="65.7" font-size="55" text-anchor="middle">Dome C: JJA</text>
<text x="1860" y="159.7" font-size="58.5">(a) SAM</text>
<text x="1860" y="868" font-size="58.5">(b) IWV</text>
<text x="1860" y="1577" font-size="58.5">(c) T<tspan font-size="36.3" dy="15.5">2m</tspan></text>
<text x="235.5" y="868.7" font-size="47" fill="#ff0000">MERRA2</text>
<text x="235.5" y="915.5" font-size="47" fill="#2020ff">ERA Int</text>
<text x="235.5" y="962.3" font-size="47" fill="#00ffff">ERA5</text>
<text x="235.5" y="1009.1" font-size="47" fill="#22ff22">JRA-55</text>
<text x="235.5" y="1055.9" font-size="47" fill="#ffaa00">RS</text>
<text x="235.5" y="1593.8" font-size="47" fill="#ff0000">MERRA2</text>
<text x="235.5" y="1638.8" font-size="47" fill="#2020ff">ERA Int</text>
<text x="235.5" y="1683.8" font-size="47" fill="#00ffff">ERA5</text>
<text x="235.5" y="1728.8" font-size="47" fill="#22ff22">JRA-55</text>
<text x="235.5" y="1773.8" font-size="47" fill="#ffaa00">RS</text>
<text transform="translate(103.8 781) rotate(-90)" font-size="44.0">SAM Decadal Trends / index dec<tspan font-size="27.28" dy="-21.5">−1</tspan></text>
<text transform="translate(66.7 1494.5) rotate(-90)" font-size="44.0">IWV Decadal Trends / kg m<tspan font-size="27.28" dy="-21.5">−2</tspan><tspan dy="21.5"> dec</tspan><tspan font-size="27.28" dy="-21.5">−1</tspan></text>
<text transform="translate(103.7 2147) rotate(-90)" font-size="44.0">T<tspan font-size="27.28" dy="11">2m</tspan><tspan dy="-11"> Decadal Trends / K dec</tspan><tspan font-size="27.28" dy="-21.5">−1</tspan></text>
</svg>
</body></html>
